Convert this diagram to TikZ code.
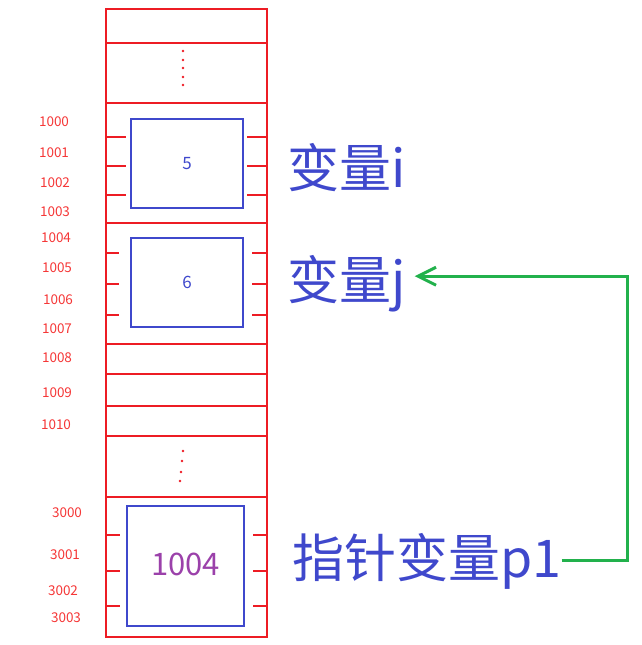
\documentclass[tikz,border=0pt]{standalone}
\usepackage{fontspec}
\setmainfont{Noto Sans CJK SC}
\usepackage{tikz}
\usetikzlibrary{arrows.meta}
\definecolor{memred}{RGB}{237,28,36}
\definecolor{addrred}{RGB}{245,55,55}
\definecolor{varblue}{RGB}{63,72,204}
\definecolor{ptrpurple}{RGB}{155,65,170}
\definecolor{linkgreen}{RGB}{34,177,76}

\begin{document}
\begin{tikzpicture}[x=1pt, y=-1pt,
        cellline/.style={draw=memred, line width=2pt},
        addr/.style={text=addrred, inner sep=0pt, font=\fontsize{13.5}{15}\selectfont},
        varbox/.style={draw=varblue, line width=2.5pt, rectangle, inner sep=0pt, text=varblue, font=\fontsize{17}{19}\selectfont},
        varname/.style={text=varblue, inner sep=0pt, anchor=base west, font=\fontsize{52}{56}\selectfont},
        link/.style={draw=linkgreen, line width=3pt, -{Straight Barb[length=18pt, width=18pt, line width=3pt]}}]
        \useasboundingbox (0,0) rectangle (642,645);
        % memory column
        \draw[cellline] (106,9) -- (106,637);
        \draw[cellline] (266.5,9) -- (266.5,637);
        \foreach \y in {9,43,103,223,344,374,406,436,497,637}
            \draw[cellline] (105,\y) -- (267.5,\y);
        \foreach \y in {51,60,68,77,85}
            \fill[memred] (183,\y) circle (1.3);
        \foreach \x/\y in {183/451,182/461,181/472,180/481}
            \fill[memred] (\x,\y) circle (1.3);
        % variables
        \node[varbox, minimum width=112, minimum height=89] (vali) at (187,163.5) {5};
        \node[varbox, minimum width=112, minimum height=89] (valj) at (187,282.5) {6};
        \node[varbox, minimum width=117, minimum height=120, text=ptrpurple, font=\fontsize{31}{34}\selectfont] (valp) at (185.5,566) {\raisebox{4pt}{1004}};
        \foreach \y in {137,166,195} {
            \draw[cellline] (106,\y) -- (126,\y);
            \draw[cellline] (247,\y) -- (266.5,\y);
        }
        \foreach \y in {253,284,315} {
            \draw[cellline] (106,\y) -- (119,\y);
            \draw[cellline] (252,\y) -- (266.5,\y);
        }
        \foreach \y in {535,571,606} {
            \draw[cellline] (106,\y) -- (120,\y);
            \draw[cellline] (253,\y) -- (266.5,\y);
        }
        % addresses
        \foreach \x/\y/\a in {54/122/1000,54/153/1001,55/183/1002,55/212/1003,
                              56/238/1004,57/268/1005,58/300/1006,57/329/1007,
                              57/358/1008,57/393/1009,56/425/1010,
                              67/513/3000,65/555/3001,63/591/3002,66/618/3003}
            \node[addr] (a\a) at (\x,\y) {\a};
        % names
        \node[varname] (vi) at (287,187) {变量i};
        \node[varname] (vj) at (287,299) {变量j};
        \node[varname] (ptr) at (292,577) {指针变量p1};
        \draw[link] (ptr.east) -- ++(66,0) |- ([xshift=9pt, yshift=7pt]vj.east);
    \end{tikzpicture}
\end{document}
